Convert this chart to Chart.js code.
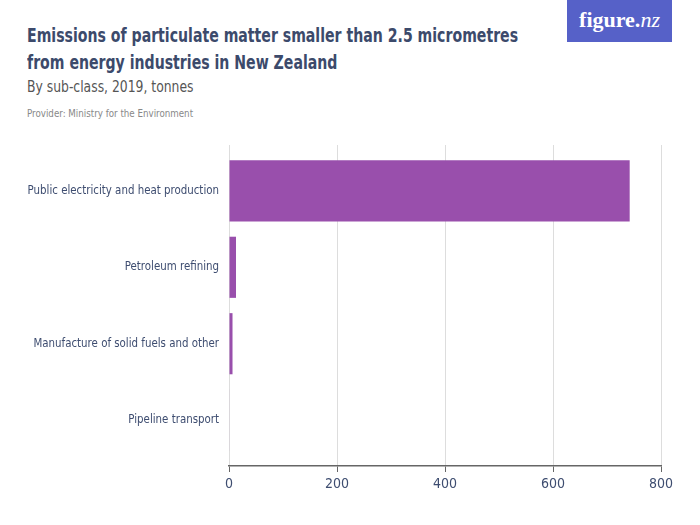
<!DOCTYPE html>
<html>
<head>
<meta charset="utf-8">
<script src="https://cdn.jsdelivr.net/npm/chart.js@4"></script>
<style>
  body { margin: 0; background: #fff; }
  .wrap { position: relative; width: 700px; height: 525px; overflow: hidden; font-family: "DejaVu Sans Condensed", Roboto, sans-serif; }
  .title { position: absolute; left: 27px; top: 22px; font-size: 19px; line-height: 27px; color: #3c4a6b; font-weight: bold;
           white-space: nowrap; transform: scaleX(0.825); transform-origin: left top; }
  .sub { position: absolute; left: 27px; top: 77px; font-size: 16px; color: #555; white-space: nowrap; transform: scaleX(0.86); transform-origin: left top; }
  .prov { position: absolute; left: 27px; top: 107px; font-size: 11px; color: #888; white-space: nowrap; transform: scaleX(0.88); transform-origin: left top; }
  .logo { position: absolute; left: 567px; top: 0; width: 105px; height: 42px; background: #5661c8; color: #fff;
          font-family: "Liberation Serif", "DejaVu Serif", serif; font-size: 22px; font-weight: bold; text-align: center; line-height: 40px; }
  .logo i { font-weight: normal; }
  canvas { position: absolute; left: 0; top: 0; }
</style>
</head>
<body>
<div class="wrap">
  <div class="title">Emissions of particulate matter smaller than 2.5 micrometres<br>from energy industries in New Zealand</div>
  <div class="sub">By sub-class, 2019, tonnes</div>
  <div class="prov">Provider: Ministry for the Environment</div>
  <div class="logo">figure.<i>nz</i></div>
  <canvas id="chart" width="700" height="525"></canvas>
</div>
<script>
const categories = [
  'Public electricity and heat production',
  'Petroleum refining',
  'Manufacture of solid fuels and other',
  'Pipeline transport'
];
const tonnes = [742, 13, 6.5, 1];
const xTicks = [0, 200, 400, 600, 800];

const points = categories.map((c, i) => ({ x: tonnes[i], y: i }));
const tickFont = 'DejaVu Sans Condensed, Roboto, sans-serif';

const ctx = document.getElementById('chart').getContext('2d');
new Chart(ctx, {
  type: 'bar',
  data: {
    datasets: [{
      data: points,
      backgroundColor: '#994fac',
      barPercentage: 1,
      categoryPercentage: 0.8
    }]
  },
  options: {
    indexAxis: 'y',
    responsive: false,
    animation: false,
    layout: { padding: { top: 145, right: 39, left: 0, bottom: 0 } },
    plugins: { legend: { display: false }, tooltip: { enabled: false } },
    scales: {
      x: {
        min: 0,
        max: 800,
        afterFit: (scale) => { scale.height = 59; },
        afterBuildTicks: (scale) => { scale.ticks = xTicks.map(v => ({ value: v })); },
        grid: { color: '#dddddd', tickColor: '#666', tickLength: 6 },
        border: { color: '#666', width: 1.5 },
        ticks: { color: '#3e4d70', padding: 4, font: { family: tickFont, size: 14 } }
      },
      y: {
        type: 'linear',
        offset: false,
        min: -0.6,
        max: 3.6,
        reverse: true,
        afterFit: (scale) => { scale.width = 229; },
        afterBuildTicks: (scale) => { scale.ticks = categories.map((c, i) => ({ value: i })); },
        grid: { display: false, drawTicks: false },
        border: { display: false },
        ticks: {
          color: '#3e4d70',
          padding: 10,
          font: { family: tickFont, size: 11.4 },
          callback: (v) => categories[v]
        }
      }
    }
  }
});
</script>
</body>
</html>
